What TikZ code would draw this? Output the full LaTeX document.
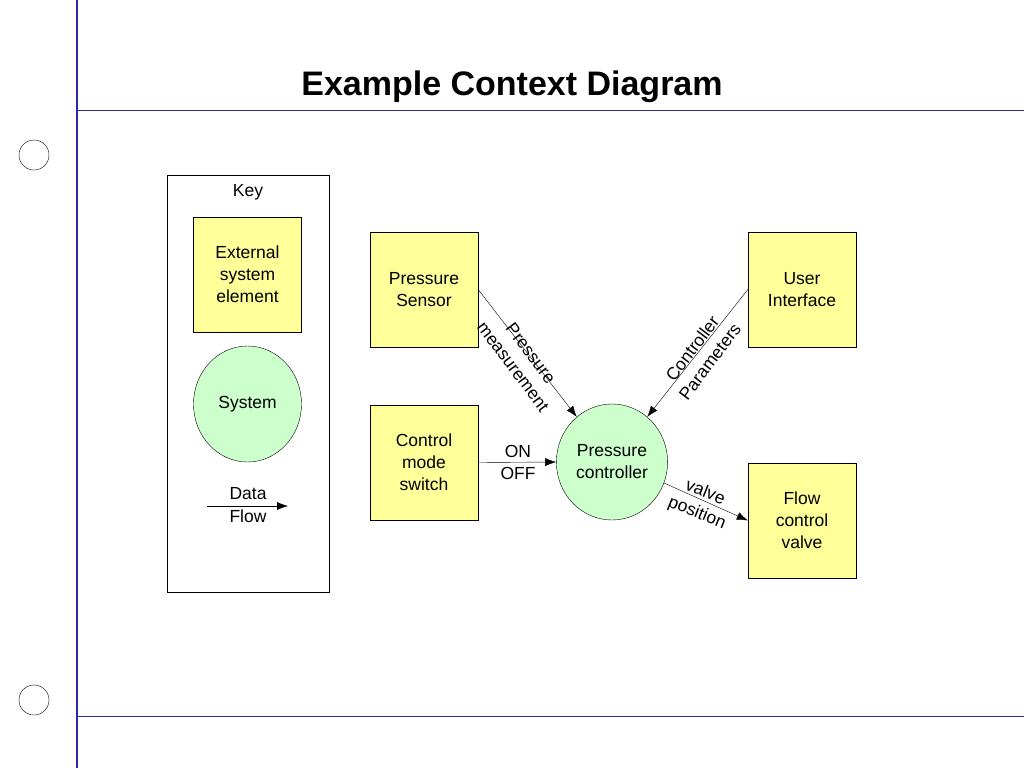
\documentclass[tikz,border=0pt]{standalone}
\usepackage{fontspec}
\setmainfont{Liberation Sans}
\usetikzlibrary{shapes.geometric,arrows.meta}
\definecolor{ext}{HTML}{FFFF99}
\definecolor{sys}{HTML}{CCFFCC}
\definecolor{rule}{HTML}{2B2BA0}
\begin{document}
\begin{tikzpicture}[x=1pt,y=-1pt,
  txt/.style={font=\fontsize{17.5}{22}\selectfont,align=center},
  ext/.style={draw,fill=ext,minimum width=108pt,minimum height=115pt,txt},
  sys/.style={draw,fill=sys,ellipse,minimum width=108pt,minimum height=116pt,txt},
  flow/.style={-{Latex[length=11pt,width=8pt]}},
  lbl/.style={txt,inner sep=1pt}]
\useasboundingbox (0,0) rectangle (1024,768);
\draw[rule,line width=1.2pt] (77,0) -- (77,768);
\draw[rule] (77,110) -- (1024,110);
\draw[rule] (77,716) -- (1024,716);
\draw (34,155) circle (15);
\draw (34,700) circle (15);
\node[font=\fontsize{34}{40}\selectfont\bfseries] (title) at (512,87) {Example Context Diagram};
% key
\draw (167,175) rectangle (329,592);
\node[txt] (key) at (248,192) {Key};
\node[ext] (ke) at (247.5,274.5) {External\\system\\element};
\node[sys] (ks) at (247.5,404) {System};
\coordinate (d1) at (207,506);
\coordinate (d2) at (288,506);
\draw[flow] (d1) -- (d2);
\node[txt,align=center] (df) at (248,505) {Data\\[1pt]Flow};
% main
\node[ext] (ps) at (424,289.5) {Pressure\\Sensor};
\node[ext] (ui) at (802,289.5) {User\\Interface};
\node[ext] (cm) at (424,462.5) {Control\\mode\\switch};
\node[ext] (fv) at (802,520.5) {Flow\\control\\valve};
\node[sys] (pc) at (612,462) {Pressure\\controller};
\draw[flow] (ps.east) -- (pc.128);
\draw[flow] (ui.west) -- (pc.52);
\draw[flow] (cm.east) -- (pc.west);
\draw[flow] (pc.-22) -- (fv.west);
\node[lbl,rotate=-53] (l1) at (522,360) {Pressure\\measurement};
\node[lbl,rotate=53] (l2) at (701,355) {Controller\\Parameters};
\node[lbl] (l3) at (518,462) {ON\\OFF};
\node[lbl,rotate=-22] (l4) at (701,503) {valve\\position};
\end{tikzpicture}
\end{document}
